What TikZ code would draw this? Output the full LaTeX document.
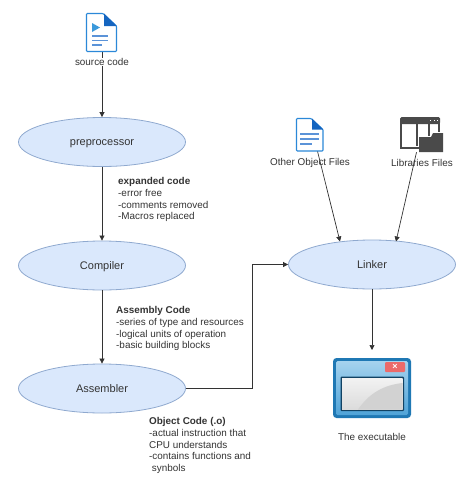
\documentclass[tikz,border=0pt]{standalone}
\usepackage{fontspec}
\setmainfont{Liberation Sans}
\usetikzlibrary{arrows.meta,shapes.geometric}
\definecolor{inkc}{HTML}{333333}
\definecolor{ellfill}{HTML}{DAE8FC}
\definecolor{ellline}{HTML}{8FA9CF}
\definecolor{docblue}{HTML}{2B88D8}
\definecolor{docdark}{HTML}{1565C0}
\definecolor{lineblue}{HTML}{5B93D8}
\definecolor{libgrey}{HTML}{4A4A4A}
\definecolor{winedge}{HTML}{1F78B4}
\definecolor{wintop}{HTML}{A6D3EE}
\definecolor{winlow}{HTML}{4FA3D8}
\tikzset{
  x=1pt,y=-1pt,
  stage/.style={ellipse,draw=ellline,fill=ellfill,line width=0.8pt,minimum width=167pt,minimum height=49pt,inner sep=0pt,font=\fontsize{11}{13}\selectfont,text=inkc,text depth=0pt},
  flow/.style={draw=inkc,line width=0.7pt,-{Triangle[length=5pt,width=5pt]}},
  lab/.style={font=\fontsize{9.9}{11.6}\selectfont,text=inkc,inner sep=0pt},
  note/.style={lab,align=left,anchor=north west},
  iconbox/.style={inner sep=0pt,minimum width=#1,draw=none},
}
\begin{document}
\begin{tikzpicture}
\useasboundingbox (0,0) rectangle (474,482);
% nodes
\node[stage] (pre) at (102,142) {\raisebox{-1.5pt}{preprocessor}};
\node[stage] (comp) at (102,265.5) {Compiler};
\node[stage] (asm) at (102,388.5) {Assembler};
\node[stage] (link) at (372,264.5) {Linker};
% icon anchors
\node[iconbox=31pt,minimum height=39pt] (src) at (102,32.5) {};
\node[iconbox=27pt,minimum height=33pt] (obj) at (309.5,134.5) {};
\node[iconbox=43pt,minimum height=35pt] (lib) at (421.5,134.5) {};
\node[iconbox=78pt,minimum height=60pt] (exe) at (372,388) {};
% connectors
\draw[flow] (src.south) -- (pre.north);
\draw[flow] (pre.south) -- (comp.north);
\draw[flow] (comp.south) -- (asm.north);
\draw[flow] (asm.east) -- (252,388.5) |- (link.west);
\draw[flow] (obj.south) ++(8,0) coordinate (objfoot) -- (340,241.5);
\draw[flow] (lib.south) ++(-5,0) coordinate (libfoot) -- (396,241.5);
\draw[flow] (link.south) -- (372,350);
% source icon
\fill[white,draw=docblue,line width=1.1pt,rounded corners=0.8pt] (86.5,13.5) -- (103,13.5) -- (116.5,26) -- (116.5,51.5) -- (86.5,51.5) -- cycle;
\fill[docdark] (104,13.5) -- (116.5,26) -- (104,26) -- cycle;
\fill[cyan!70!blue!80] (92,23) -- (100,27.5) -- (92,32) -- cycle;
\foreach \yy/\xe in {36/108,40.5/108,45/102}{\draw[lineblue,line width=1.2pt] (92,\yy) -- (\xe,\yy);}
% object icon
\fill[white,draw=docblue,line width=1.1pt,rounded corners=0.8pt] (296.5,118.5) -- (311,118.5) -- (323,129.5) -- (323,151) -- (296.5,151) -- cycle;
\fill[docdark] (312,118.5) -- (323,129.5) -- (312,129.5) -- cycle;
\foreach \yy/\xe in {134/319,139/319,144/312}{\draw[lineblue,line width=1.2pt] (300,\yy) -- (\xe,\yy);}
% libraries icon
\fill[libgrey,rounded corners=1.5pt] (400,124) rectangle (440,117);
\fill[libgrey] (400,122) rectangle (440,124);
\foreach \xx in {431,434.5,438}{\fill[white] (\xx-1,119.5) rectangle (\xx,121);}
\draw[libgrey,line width=1.6pt] (401,123) -- (401,148) -- (419,148);
\draw[libgrey,line width=1.6pt] (417,123) -- (417,146);
\draw[libgrey,line width=1.6pt] (429,123) -- (429,136) (439,123) -- (439,132);
\fill[libgrey] (419,137) -- (419,152) -- (443,152) -- (443,133) -- (433,133) -- (431,137) -- cycle;
% executable icon
\fill[winedge,rounded corners=3.5pt] (333,358) rectangle (411,418);
\shade[top color=wintop,bottom color=winlow,rounded corners=1.5pt] (336,361) rectangle (408,415);
\fill[red!60!white!85!gray,rounded corners=1pt] (385,362) rectangle (405,372);
\node[font=\bfseries\fontsize{9}{9}\selectfont,text=white,inner sep=0pt] (closemark) at (395,367) {×};
\fill[black!45!winedge,rounded corners=1pt] (340.5,376.5) rectangle (404,411);
\shade[top color=gray!10,bottom color=gray!28] (342,378) rectangle (402.5,409.5);
\fill[gray!35] (358,409.5) .. controls (370,392) and (385,385) .. (402.5,383) -- (402.5,409.5) -- cycle;
% labels
\node[lab,fill=white,inner xsep=1pt] (srclab) at (102,62) {source code};
\node[lab] (objlab) at (310,162.5) {Other Object Files};
\node[lab] (liblab) at (422,162.5) {Libraries Files};
\node[lab] (exelab) at (372,437) {The executable};
\node[note] (n1) at (118,177.5) {\textbf{expanded code}\\-error free\\-comments removed\\-Macros replaced};
\node[note] (n2) at (116,306.5) {\textbf{Assembly Code}\\-series of type and resources\\-logical units of operation\\-basic building blocks};
\node[note] (n3) at (149,417.5) {\textbf{Object Code (.o)}\\-actual instruction that\\CPU understands\\-contains functions and\\\ synbols};
\end{tikzpicture}
\end{document}
